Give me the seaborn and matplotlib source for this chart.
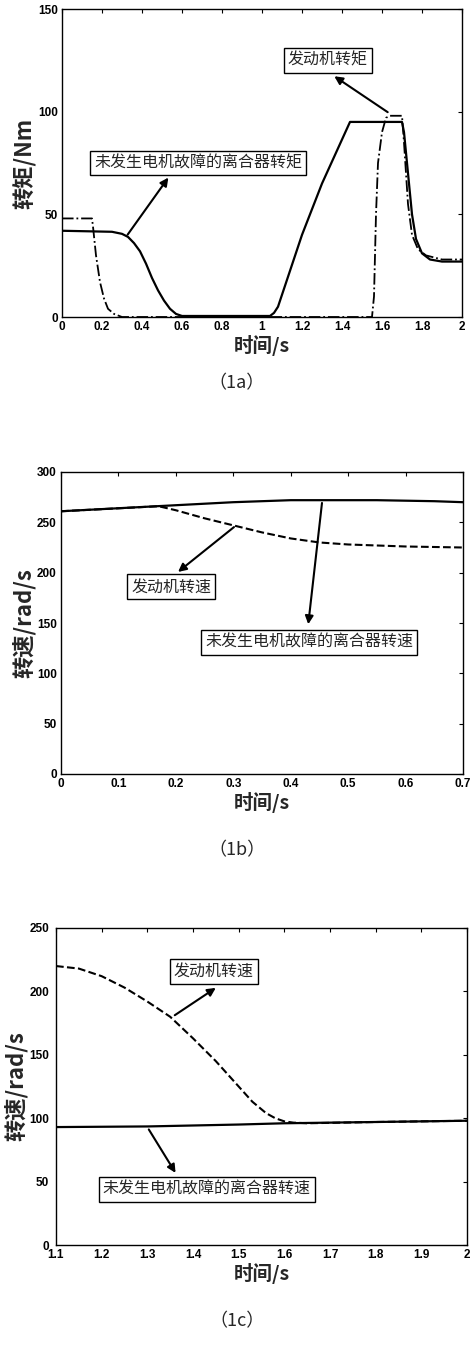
import matplotlib
matplotlib.use("Agg")
import matplotlib.pyplot as plt
import seaborn as sns
import numpy as np

sns.set_style("white")
plt.rcParams['font.family'] = ['Liberation Sans', 'Noto Sans CJK SC', 'DejaVu Sans']

# Panel a
a_t_clutch = [0, 0.25, 0.3, 0.33, 0.36, 0.39, 0.42, 0.45, 0.48, 0.51, 0.54, 0.57, 0.6, 1.04, 1.06, 1.08, 1.2, 1.3, 1.44, 1.7, 1.71, 1.73, 1.75, 1.77, 1.8, 1.84, 1.9, 2.0]
a_clutch = [42, 41.5, 40.5, 39, 36, 32, 26, 19, 13, 8, 4, 1.5, 0.5, 0.5, 2, 5, 40, 65, 95, 95, 90, 70, 50, 38, 31, 28, 27, 27]
a_t_eng = [0, 0.15, 0.155, 0.17, 0.19, 0.21, 0.23, 0.26, 0.3, 1.55, 1.56, 1.57, 1.58, 1.6, 1.62, 1.64, 1.7, 1.71, 1.73, 1.75, 1.78, 1.82, 1.9, 2.0]
a_eng = [48, 48, 44, 30, 17, 9, 4, 1.5, 0, 0, 10, 50, 75, 90, 97, 98, 98, 85, 55, 40, 33, 30, 28, 28]
# Panel b
b_t_clutch = [0, 0.1, 0.2, 0.3, 0.4, 0.55, 0.65, 0.7]
b_clutch = [261, 264, 267, 270, 272, 272, 271, 270]
b_t_eng = [0, 0.17, 0.2, 0.25, 0.3, 0.35, 0.4, 0.45, 0.5, 0.6, 0.7]
b_eng = [261, 266, 262, 254, 247, 240, 234, 230, 228, 226, 225]
# Panel c
c_t_eng = [1.1, 1.15, 1.2, 1.25, 1.3, 1.35, 1.4, 1.45, 1.5, 1.53, 1.56, 1.58, 1.6, 1.62, 1.65, 1.8, 2.0]
c_eng = [220, 218, 212, 203, 192, 180, 163, 145, 125, 113, 104, 100, 97.5, 96.5, 96, 97, 98]
c_t_clutch = [1.1, 1.3, 1.5, 1.6, 1.8, 2.0]
c_clutch = [93, 93.5, 95, 96, 97, 98]

W, H = 474, 1354
fig = plt.figure(figsize=(W/100, H/100), dpi=100)

def mkax(l, r, t, b):
    return fig.add_axes([l/W, 1-b/H, (r-l)/W, (b-t)/H])

tickfont = dict(fontsize=8.5, fontweight='bold')
cjk = ['Noto Sans CJK SC', 'Liberation Sans']

def style(ax, xlim, ylim, xticks, yticks, ylabel):
    ax.set_xlim(*xlim); ax.set_ylim(*ylim)
    ax.set_xticks(xticks); ax.set_yticks(yticks)
    ax.set_xticklabels([f"{v:g}" for v in xticks], **tickfont)
    ax.set_yticklabels([f"{v:g}" for v in yticks], **tickfont)
    ax.tick_params(direction='in', top=True, right=True, length=3, pad=3, colors='black')
    for s in ax.spines.values():
        s.set_color('black'); s.set_linewidth(1)
    ax.set_xlabel('时间/s', fontsize=14, family=cjk, fontweight='bold', labelpad=1)
    ax.set_ylabel(ylabel, fontsize=16, family=cjk, fontweight='bold', labelpad=1)

box = dict(boxstyle='square,pad=0.25', fc='white', ec='black', lw=1)
arrow = dict(arrowstyle='-|>', color='black', lw=1.5, mutation_scale=12)
lab = dict(fontsize=11.5, family=cjk, ha='center', va='center', bbox=box)

# a
ax = mkax(62, 462, 9, 317)
sns.lineplot(x=a_t_clutch, y=a_clutch, ax=ax, color='black', lw=1.6)
sns.lineplot(x=a_t_eng, y=a_eng, ax=ax, color='black', lw=1.3, linestyle='-.')
style(ax, (0, 2), (0, 150), np.arange(0, 2.01, 0.2).round(1), [0, 50, 100, 150], '转矩/Nm')
ax.annotate('', xy=(0.54, 69), xytext=(0.32, 39), arrowprops=arrow)
ax.text(0.68, 75, '未发生电机故障的离合器转矩', **lab)
ax.annotate('', xy=(1.35, 118), xytext=(1.64, 99), arrowprops=arrow)
ax.text(1.33, 125, '发动机转矩', **lab)
fig.text(237/W, 1-383/H, '（1a）', fontsize=13, family=cjk, ha='center', va='center')

# b
ax = mkax(61, 463, 472, 774)
sns.lineplot(x=b_t_clutch, y=b_clutch, ax=ax, color='black', lw=1.6)
sns.lineplot(x=b_t_eng, y=b_eng, ax=ax, color='black', lw=1.5, linestyle='--')
style(ax, (0, 0.7), (0, 300), np.arange(0, 0.71, 0.1).round(1), [0, 50, 100, 150, 200, 250, 300], '转速/rad/s')
ax.annotate('', xy=(0.2, 199), xytext=(0.305, 247), arrowprops=arrow)
ax.text(0.192, 186, '发动机转速', **lab)
ax.annotate('', xy=(0.43, 146), xytext=(0.455, 272), arrowprops=arrow)
ax.text(0.432, 131, '未发生电机故障的离合器转速', **lab)
fig.text(237/W, 1-850/H, '（1b）', fontsize=13, family=cjk, ha='center', va='center')

# c
ax = mkax(56, 467, 928, 1245)
sns.lineplot(x=c_t_eng, y=c_eng, ax=ax, color='black', lw=1.5, linestyle='--')
sns.lineplot(x=c_t_clutch, y=c_clutch, ax=ax, color='black', lw=1.6)
style(ax, (1.1, 2), (0, 250), np.arange(1.1, 2.001, 0.1).round(1), [0, 50, 100, 150, 200, 250], '转速/rad/s')
ax.tick_params(axis='y', pad=5)
ax.annotate('', xy=(1.455, 204), xytext=(1.355, 180), arrowprops=arrow)
ax.text(1.445, 216, '发动机转速', **lab)
ax.annotate('', xy=(1.365, 55), xytext=(1.3, 93), arrowprops=arrow)
ax.text(1.43, 44, '未发生电机故障的离合器转速', **lab)
fig.text(237/W, 1-1321/H, '（1c）', fontsize=13, family=cjk, ha='center', va='center')

fig.savefig('out.png', dpi=100, facecolor='white')
